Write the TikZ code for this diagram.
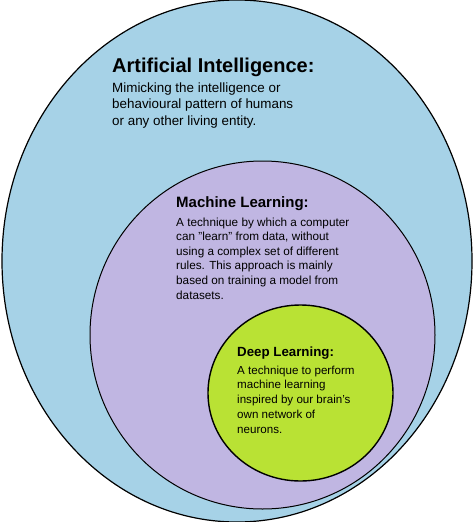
\documentclass[tikz,border=0pt]{standalone}
\usepackage{fontspec}
\setmainfont{Liberation Sans}
\usetikzlibrary{shapes.geometric}
\definecolor{aiblue}{RGB}{166,210,231}
\definecolor{mlpurple}{RGB}{192,182,226}
\definecolor{dlgreen}{RGB}{185,226,52}
\tikzset{
  circ/.style={ellipse, draw=black, line width=1.2pt, inner sep=0pt},
  ttl/.style={anchor=base west, inner sep=0pt, font=\bfseries},
  body/.style={anchor=base west, inner sep=0pt, align=left}
}
\begin{document}
\begin{tikzpicture}[x=1pt,y=-1pt]
\useasboundingbox (0,0) rectangle (474,522);
\clip (0,0) rectangle (474,522);
\fill[white] (0,0) rectangle (474,522);
\node[circ, fill=aiblue, minimum width=470pt, minimum height=522pt] (ai) at (237,261) {};
\node[circ, fill=mlpurple, line width=1pt, minimum width=345pt, minimum height=348pt] (ml) at (262.5,335) {};
\node[circ, fill=dlgreen, line width=1.4pt, minimum width=185pt, minimum height=176pt] (dl) at (300.5,393) {};
\node[ttl, font=\fontsize{20}{24}\selectfont\bfseries] (aititle) at (112,72) {Artificial Intelligence:};
\node[body, font=\fontsize{13.4}{16.7}\selectfont] (aibody) at (112,125.4) {Mimicking the intelligence or\\behavioural pattern of humans\\or any other living entity.};
\node[ttl, font=\fontsize{15}{18}\selectfont\bfseries] (mltitle) at (176,207) {Machine Learning:};
\node[body, font=\fontsize{11.75}{14.6}\selectfont] (mlbody) at (176,299) {A technique by which a computer\\can \symbol{34}learn\symbol{34} from data, without\\using a complex set of different\\rules. This approach is mainly\\based on training a model from\\datasets.};
\node[ttl, font=\fontsize{13.3}{16}\selectfont\bfseries] (dltitle) at (237,356) {Deep Learning:};
\node[body, font=\fontsize{11.6}{14.75}\selectfont] (dlbody) at (237,433) {A technique to perform\\machine learning\\inspired by our brain\symbol{39}s\\own network of\\neurons.};
\end{tikzpicture}
\end{document}
